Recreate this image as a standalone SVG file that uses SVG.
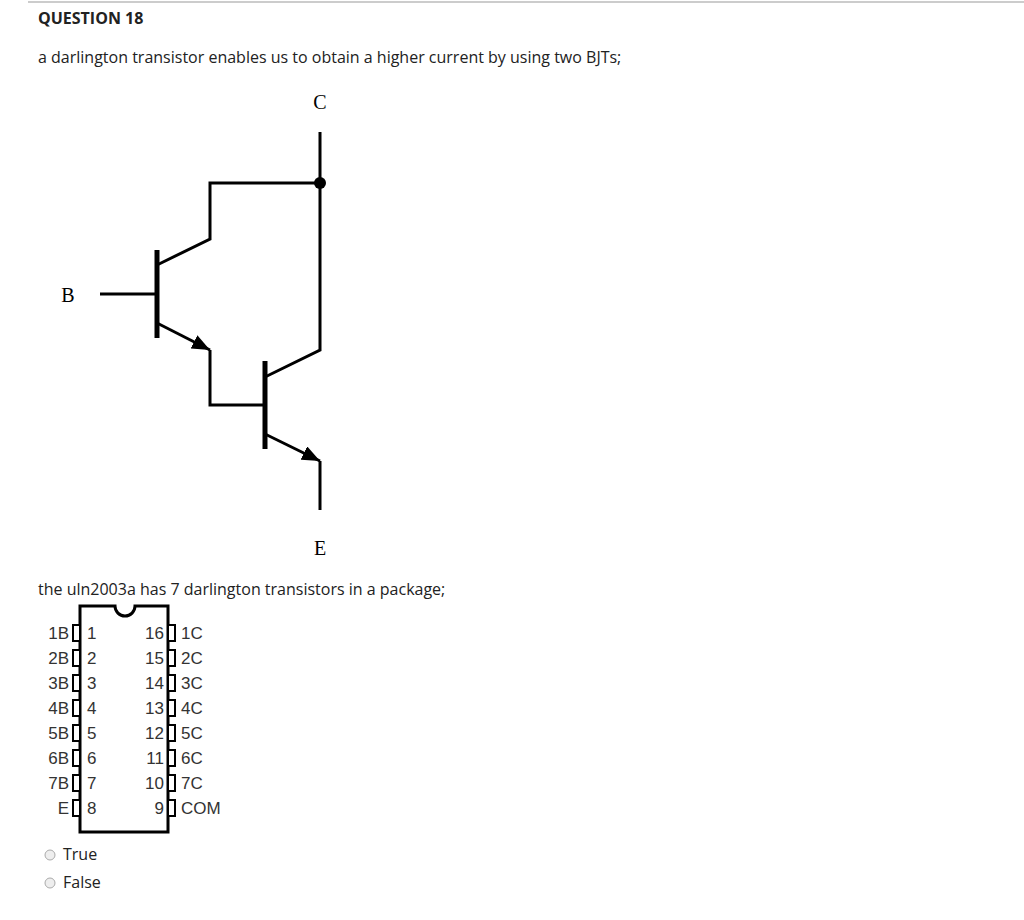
<svg xmlns="http://www.w3.org/2000/svg" width="1024" height="920" viewBox="0 0 1024 920">
<style>
.t{font-family:"Open Sans","Liberation Sans",sans-serif;font-size:16px;fill:#222}
.s{font-family:"Liberation Serif",serif;font-size:20px;fill:#000}
.p{font-family:"Liberation Sans",Arial,sans-serif;font-size:17px;fill:#333}
.w{stroke:#000;stroke-width:3;fill:none}
.bar{stroke:#000;stroke-width:5}
.pin{fill:#fff;stroke:#000;stroke-width:2}
</style>
<defs>
<marker id="ar" viewBox="0 0 12 10" refX="12" refY="5" markerWidth="18" markerHeight="15" markerUnits="userSpaceOnUse" orient="auto"><path d="M0,0L12,5L0,10z"/></marker></defs>
<rect width="1024" height="920" fill="#fff"/>
<line x1="28" y1="2" x2="1024" y2="2" stroke="#ccc" stroke-width="2"/>
<text class="t" x="38" y="24" font-weight="bold" font-size="15">QUESTION 18</text>
<text class="t" x="38" y="63">a darlington transistor enables us to obtain a higher current by using two BJTs;</text>
<g id="circuit">
<text class="s" x="320" y="109" text-anchor="middle">C</text>
<text class="s" x="68" y="302" text-anchor="middle">B</text>
<text class="s" x="320" y="555" text-anchor="middle">E</text>
<g id="connectors">
<path class="w" d="M320,132V350L265,377"/>
<path class="w" d="M320,183H210V239L157,265"/>
<path class="w" d="M100,294H157"/>
<path class="w" d="M157,323L210,350" marker-end="url(#ar)"/>
<path class="w" d="M210,350V405H265"/>
<path class="w" d="M265,434L320,461" marker-end="url(#ar)"/>
<path class="w" d="M320,461V510"/>
</g>
<circle cx="320" cy="183" r="6"/>
<line class="bar" x1="157" y1="250" x2="157" y2="338"/>
<line class="bar" x1="265" y1="361" x2="265" y2="449"/>
</g>
<text class="t" x="38" y="595">the uln2003a has 7 darlington transistors in a package;</text>
<g id="ic">
<path d="M80,606H115A10,10 0 0 0 135,606H168V832H80Z" fill="#fff" stroke="#000" stroke-width="3"/>
<g id="pins">
<rect class="pin" x="73" y="625" width="7" height="16"/><rect class="pin" x="168" y="625" width="7" height="16"/>
<rect class="pin" x="73" y="650" width="7" height="16"/><rect class="pin" x="168" y="650" width="7" height="16"/>
<rect class="pin" x="73" y="675" width="7" height="16"/><rect class="pin" x="168" y="675" width="7" height="16"/>
<rect class="pin" x="73" y="700" width="7" height="16"/><rect class="pin" x="168" y="700" width="7" height="16"/>
<rect class="pin" x="73" y="725" width="7" height="16"/><rect class="pin" x="168" y="725" width="7" height="16"/>
<rect class="pin" x="73" y="750" width="7" height="16"/><rect class="pin" x="168" y="750" width="7" height="16"/>
<rect class="pin" x="73" y="775" width="7" height="16"/><rect class="pin" x="168" y="775" width="7" height="16"/>
<rect class="pin" x="73" y="800" width="7" height="16"/><rect class="pin" x="168" y="800" width="7" height="16"/>
</g>
<g class="p" text-anchor="end">
<text x="69" y="639">1B</text><text x="69" y="664">2B</text><text x="69" y="689">3B</text><text x="69" y="714">4B</text><text x="69" y="739">5B</text><text x="69" y="764">6B</text><text x="69" y="789">7B</text><text x="69" y="814">E</text>
<text x="164" y="639">16</text><text x="164" y="664">15</text><text x="164" y="689">14</text><text x="164" y="714">13</text><text x="164" y="739">12</text><text x="164" y="764">11</text><text x="164" y="789">10</text><text x="164" y="814">9</text>
</g>
<g class="p">
<text x="87" y="639">1</text><text x="87" y="664">2</text><text x="87" y="689">3</text><text x="87" y="714">4</text><text x="87" y="739">5</text><text x="87" y="764">6</text><text x="87" y="789">7</text><text x="87" y="814">8</text>
<text x="181" y="639">1C</text><text x="181" y="664">2C</text><text x="181" y="689">3C</text><text x="181" y="714">4C</text><text x="181" y="739">5C</text><text x="181" y="764">6C</text><text x="181" y="789">7C</text><text x="181" y="814">COM</text>
</g>
</g>
<g id="options">
<circle cx="50" cy="855" r="5" fill="#eee" stroke="#aaa"/>
<text class="t" x="63" y="860">True</text>
<circle cx="50" cy="883" r="5" fill="#eee" stroke="#aaa"/>
<text class="t" x="63" y="888">False</text>
</g>
</svg>
